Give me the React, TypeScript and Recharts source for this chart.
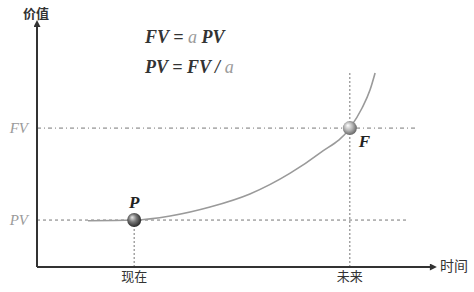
import {
  LineChart,
  Line,
  XAxis,
  YAxis,
  ReferenceLine,
  ReferenceDot,
  Label,
} from 'recharts';

// Growth curve of value over time
const TIME = [12.9, 24.6, 33.7, 43.8, 53.9, 64.1, 71.6, 79.2, 82.3, 84.3, 85.6];
const VALUE = [19.1, 19.4, 21.1, 24.8, 30.2, 38.8, 47.1, 57.4, 65.7, 73.1, 80.2];

// Marked moments and their values
const NOW = 24.6;
const FUTURE = 79.2;
const PV = 19.4;
const FV = 57.4;
const CURVE_TOP = 80.2;

const TIME_TICKS = [NOW, FUTURE];
const TIME_LABELS = ['现在', '未来'];
const VALUE_TICKS = [PV, FV];
const VALUE_LABELS = ['PV', 'FV'];

const curve = TIME.map((t, i) => ({ time: t, value: VALUE[i] }));

const serif = '"Liberation Serif", "DejaVu Serif", serif';
const cjk = '"Noto Sans CJK SC", "Noto Sans", sans-serif';

const Formula = ({ top, children }: { top: number; children: React.ReactNode }) => (
  <div
    style={{
      position: 'absolute',
      left: 145,
      top,
      fontFamily: serif,
      fontSize: 18,
      lineHeight: '18px',
      fontWeight: 'bold',
      fontStyle: 'italic',
      color: '#333',
      whiteSpace: 'pre',
    }}
  >
    {children}
  </div>
);

const A = () => <span style={{ fontWeight: 'normal', color: '#9a9a9a' }}>a</span>;

export default function App() {
  return (
    <div style={{ position: 'absolute', left: 0, top: 0, width: 474, height: 292, background: '#fff' }}>
      <LineChart
        width={474}
        height={292}
        data={curve}
        margin={{ top: 25, right: 42, bottom: 0, left: 0 }}
      >
        <defs>
          <marker
            id="axisArrow"
            viewBox="0 0 10 10"
            refX="3"
            refY="5"
            markerWidth="8"
            markerHeight="7"
            markerUnits="userSpaceOnUse"
            orient="auto-start-reverse"
          >
            <path d="M0,0 L10,5 L0,10 z" fill="#333" />
          </marker>
          <radialGradient id="ballP" cx="45%" cy="45%" r="60%" fx="35%" fy="30%">
            <stop offset="0%" stopColor="#e8e8e8" />
            <stop offset="45%" stopColor="#7a7a7a" />
            <stop offset="100%" stopColor="#202020" />
          </radialGradient>
          <radialGradient id="ballF" cx="45%" cy="45%" r="60%" fx="35%" fy="30%">
            <stop offset="0%" stopColor="#ffffff" />
            <stop offset="50%" stopColor="#b5b5b5" />
            <stop offset="100%" stopColor="#5a5a5a" />
          </radialGradient>
        </defs>
        <XAxis
          type="number"
          dataKey="time"
          domain={[0, 100]}
          ticks={TIME_TICKS}
          interval={0}
          height={25}
          tickFormatter={(v) => TIME_LABELS[TIME_TICKS.indexOf(v)] ?? ''}
          tick={{ fill: '#333', fontSize: 13, fontFamily: cjk }}
          tickLine={false}
          tickSize={4}
          tickMargin={1}
          axisLine={{ stroke: '#333', strokeWidth: 2, markerEnd: 'url(#axisArrow)' }}
        />
        <YAxis
          type="number"
          domain={[0, 100]}
          ticks={VALUE_TICKS}
          interval={0}
          width={37}
          tickFormatter={(v) => VALUE_LABELS[VALUE_TICKS.indexOf(v)] ?? ''}
          tick={{ fill: '#9a9a9a', fontSize: 15, fontFamily: serif, fontStyle: 'italic' }}
          tickLine={false}
          tickSize={6}
          tickMargin={3}
          axisLine={{ stroke: '#333', strokeWidth: 2, markerStart: 'url(#axisArrow)' }}
        />
        <ReferenceLine
          segment={[{ x: 0, y: PV }, { x: 93.7, y: PV }]}
          stroke="#777"
          strokeDasharray="3 3"
        />
        <ReferenceLine
          segment={[{ x: 0, y: FV }, { x: 96.2, y: FV }]}
          stroke="#777"
          strokeDasharray="4 3 1 3"
        />
        <ReferenceLine
          segment={[{ x: NOW, y: 0 }, { x: NOW, y: PV }]}
          stroke="#777"
          strokeDasharray="2 2"
        />
        <ReferenceLine
          segment={[{ x: FUTURE, y: 0 }, { x: FUTURE, y: CURVE_TOP }]}
          stroke="#777"
          strokeDasharray="2 2"
        />
        <Line
          type="monotone"
          dataKey="value"
          stroke="#9a9a9a"
          strokeWidth={1.6}
          dot={false}
          activeDot={false}
          isAnimationActive={false}
        />
        <ReferenceDot x={NOW} y={PV} r={7} fill="url(#ballP)" stroke="none">
          <Label
            value="P"
            position="top"
            offset={5}
            fill="#222"
            fontSize={17}
            fontWeight="bold"
            fontStyle="italic"
            fontFamily={serif}
          />
        </ReferenceDot>
        <ReferenceDot x={FUTURE} y={FV} r={7} fill="url(#ballF)" stroke="none">
          <Label
            value="F"
            position="right"
            offset={2}
            dy={13}
            fill="#222"
            fontSize={17}
            fontWeight="bold"
            fontStyle="italic"
            fontFamily={serif}
          />
        </ReferenceDot>
      </LineChart>
      <div
        style={{
          position: 'absolute',
          left: 23,
          top: 4,
          fontFamily: cjk,
          fontSize: 13,
          fontWeight: 'bold',
          color: '#333',
          lineHeight: '18px',
        }}
      >
        价值
      </div>
      <div
        style={{
          position: 'absolute',
          left: 440,
          top: 256,
          fontFamily: cjk,
          fontSize: 14,
          color: '#333',
          lineHeight: '18px',
        }}
      >
        时间
      </div>
      <Formula top={28}>
        {'FV = '}
        <A />
        {' PV'}
      </Formula>
      <Formula top={58}>
        {'PV = FV / '}
        <A />
      </Formula>
    </div>
  );
}
